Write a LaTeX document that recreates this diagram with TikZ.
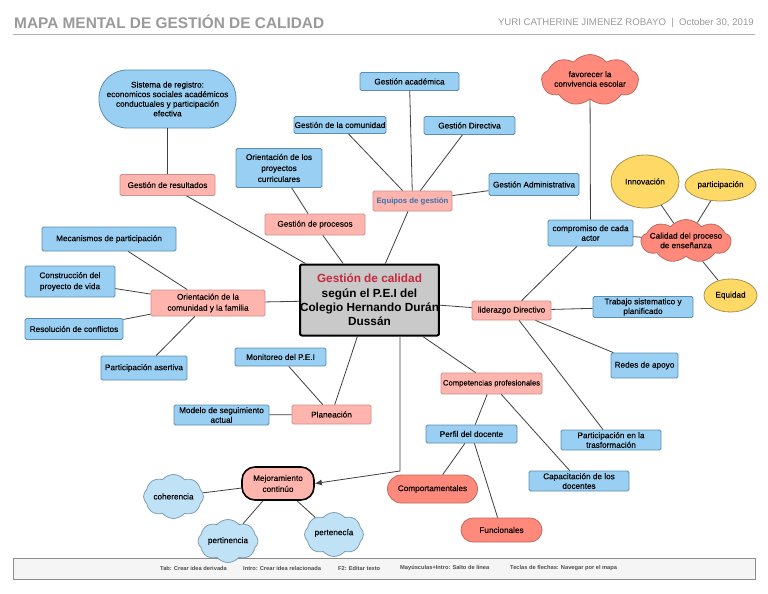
\documentclass[tikz,border=0pt]{standalone}
\usepackage{fontspec}
\setmainfont{Liberation Sans}
\newfontfamily\nodefont[FakeBold=0.25]{Liberation Sans}
\usetikzlibrary{shapes.symbols,shapes.geometric,arrows.meta}
\definecolor{cblue}{HTML}{99CFF2}
\definecolor{bblue}{HTML}{5B8FB0}
\definecolor{cpink}{HTML}{FFB5AD}
\definecolor{bpink}{HTML}{CC8F8A}
\definecolor{cred}{HTML}{FF8A7B}
\definecolor{bred}{HTML}{BF6A60}
\definecolor{cyel}{HTML}{FFD966}
\definecolor{byel}{HTML}{A8924A}
\definecolor{clight}{HTML}{BFE2F7}
\definecolor{blight}{HTML}{7F9DB0}
\definecolor{cgray}{HTML}{C9C9C9}
\definecolor{tgray}{HTML}{9A9A9A}
\definecolor{tred}{HTML}{C8283C}
\definecolor{tblue}{HTML}{2F75B5}
\newcommand{\fsNode}{\nodefont\fontsize{8.2}{11}\selectfont}
\newcommand{\fsTight}{\nodefont\fontsize{8.2}{9.6}\selectfont}
\newcommand{\fsSmall}{\fontsize{7.8}{10}\selectfont}
\tikzset{
  base/.style={inner sep=0pt,align=center,font=\fsNode,text=black,line width=0.8pt},
  tight/.style={font=\fsTight},
  bluebox/.style={base,rectangle,rounded corners=1.5pt,draw=bblue,fill=cblue},
  pinkbox/.style={base,rectangle,rounded corners=1.5pt,draw=bpink,fill=cpink},
  bluepill/.style={base,rectangle,rounded corners=28pt,draw=bblue,fill=cblue},
  redpill/.style={base,rectangle,rounded corners=14pt,draw=bred,fill=cred},
  yelloweli/.style={base,ellipse,draw=byel,fill=cyel},
  redcloud/.style={base,cloud,cloud puffs=9,cloud puff arc=100,aspect=2,draw=bred,fill=cred},
  lightcloud/.style={base,cloud,cloud puffs=8,cloud puff arc=100,aspect=1.35,draw=blight,fill=clight},
  cloudtext/.style={inner sep=0pt,align=center,text=black,font=\fsTight},
  link/.style={draw=black!75,line width=0.8pt},
  hint/.style={inner sep=0pt,anchor=west,font=\fontsize{5.7}{6}\selectfont\bfseries,text=black!70}
}
\begin{document}
\begin{tikzpicture}[x=1pt,y=-1pt]
\useasboundingbox (0,0) rectangle (768,594);
\fill[white] (0,0) rectangle (768,594);
% header
\node[inner sep=0pt,anchor=west,font=\fontsize{15.4}{18}\selectfont\bfseries,text=tgray] (title) at (14,22) {MAPA MENTAL DE GESTIÓN DE CALIDAD};
\node[inner sep=0pt,anchor=east,font=\fontsize{9.65}{11}\selectfont,text=tgray] (author) at (754,23) {YURI CATHERINE JIMENEZ ROBAYO \ |\ \ October 30, 2019};
\draw[draw=black!30,line width=1pt] (13,34.5) -- (755,34.5);
% bottom bar
\node[draw=black!45,fill=black!4,line width=0.8pt,minimum width=742pt,minimum height=21pt,inner sep=0pt] (bar) at (384,568.5) {};
\node[hint] (h1) at (160,568) {Tab: Crear idea derivada};
\node[hint] (h2) at (243,568) {Intro: Crear idea relacionada};
\node[hint] (h3) at (338,568) {F2: Editar texto};
\node[hint] (h4) at (400,568) {Mayúsculas+Intro: Salto de línea};
\node[hint] (h5) at (510,568) {Teclas de flechas: Navegar por el mapa};
% central
\node[draw=black,fill=cgray,line width=2pt,rounded corners=2pt,minimum width=136pt,minimum height=71pt,inner sep=0pt,align=center,font=\fontsize{11.8}{14.4}\selectfont\bfseries] (central) at (369.5,300) {{\color{tred}Gestión de calidad}\\según el P.E.I del\\Colegio Hernando Durán\\Dussán};
% left/top
\node[bluepill,tight,minimum width=137pt,minimum height=58pt] (sistema) at (167.5,99) {Sistema de registro:\\economicos sociales académicos\\conductuales y participación\\efectiva};
\node[pinkbox,minimum width=95pt,minimum height=21pt] (resultados) at (167.5,185) {Gestión de resultados};
\node[bluebox,minimum width=99pt,minimum height=18pt] (academica) at (409.5,81.5) {Gestión académica};
\node[bluebox,minimum width=92pt,minimum height=17pt] (comunidad) at (340,125) {Gestión de la comunidad};
\node[bluebox,minimum width=91pt,minimum height=18pt] (directiva) at (469.5,125.5) {Gestión Directiva};
\node[bluebox,minimum width=90pt,minimum height=22pt] (administrativa) at (534,184.5) {Gestión Administrativa};
\node[bluebox,minimum width=86pt,minimum height=39pt] (proyectos) at (279,168) {Orientación de los\\proyectos\\curriculares};
\node[pinkbox,minimum width=79pt,minimum height=20pt,text=tblue,font=\fsSmall\bfseries] (equipos) at (412.5,201) {Equipos de gestión};
\node[pinkbox,minimum width=100pt,minimum height=21pt] (procesos) at (315,224.5) {Gestión de procesos};
\node[bluebox,minimum width=134pt,minimum height=24pt] (mecanismos) at (109,239) {Mecanismos de participación};
\node[bluebox,minimum width=90pt,minimum height=31pt] (construccion) at (70,281.5) {Construcción del\\proyecto de vida};
\node[pinkbox,minimum width=114pt,minimum height=26pt] (orientacion) at (208,303) {Orientación de la\\comunidad y la familia};
\node[bluebox,minimum width=98pt,minimum height=21pt] (resolucion) at (74,329) {Resolución de conflictos};
\node[bluebox,minimum width=86pt,minimum height=24pt] (asertiva) at (144,368) {Participación asertiva};
\node[bluebox,minimum width=91pt,minimum height=18pt] (monitoreo) at (280.5,357) {Monitoreo del P.E.I};
\node[bluebox,tight,minimum width=95pt,minimum height=20pt] (modelo) at (221.5,415) {Modelo de seguimiento\\actual};
\node[pinkbox,minimum width=79pt,minimum height=19pt] (planeacion) at (331.5,414.5) {Planeación};
\node[base,rectangle,rounded corners=13pt,draw=black,fill=cpink,line width=1.6pt,minimum width=72pt,minimum height=33pt] (mejora) at (278,483.5) {Mejoramiento\\continúo};
\node[lightcloud,minimum width=60pt,minimum height=44pt] (coherencia) at (173.5,496.5) {};
\node[cloudtext] (coherenciaT) at (coherencia) {coherencia};
\node[lightcloud,minimum width=60pt,minimum height=43pt] (pertinencia) at (228,541) {};
\node[cloudtext] (pertinenciaT) at (pertinencia) {pertinencia};
\node[lightcloud,minimum width=59pt,minimum height=44pt] (pertenecia) at (334,534.5) {};
\node[cloudtext] (perteneciaT) at (334,533) {pertenecía};
% right
\node[redcloud,minimum width=97pt,minimum height=51pt] (favorecer) at (590,80) {};
\node[cloudtext] (favorecerT) at (590,79) {favorecer la\\convivencia escolar};
\node[bluebox,tight,minimum width=85pt,minimum height=26pt] (compromiso) at (590.5,233) {compromiso de cada\\actor};
\node[redcloud,minimum width=90pt,minimum height=43pt] (calidad) at (686,241) {};
\node[cloudtext] (calidadT) at (686,240.5) {Calidad del proceso\\de enseñanza};
\node[yelloweli,minimum width=68pt,minimum height=53pt] (innovacion) at (645,181.5) {Innovación};
\node[yelloweli,minimum width=71pt,minimum height=32pt] (participacion) at (720.5,185) {participación};
\node[yelloweli,minimum width=53pt,minimum height=33pt] (equidad) at (730.5,295.5) {Equidad};
\node[pinkbox,minimum width=79pt,minimum height=19pt] (liderazgo) at (511.5,310.5) {liderazgo Directivo};
\node[bluebox,tight,minimum width=100pt,minimum height=21pt] (trabajo) at (643,307) {Trabajo sistematico y\\planificado};
\node[bluebox,minimum width=67pt,minimum height=25pt] (redes) at (644.5,365.5) {Redes de apoyo};
\node[bluebox,tight,minimum width=100pt,minimum height=20pt] (transformacion) at (611,440) {Participación en la\\trasformación};
\node[bluebox,tight,minimum width=100pt,minimum height=20pt] (capacitacion) at (579,481) {Capacitación de los\\docentes};
\node[pinkbox,minimum width=101pt,minimum height=21pt,font=\nodefont\fontsize{7.7}{10}\selectfont] (competencias) at (491.5,383.5) {Competencias profesionales};
\node[bluebox,minimum width=91pt,minimum height=18pt] (perfil) at (471.5,434) {Perfil del docente};
\node[redpill,minimum width=90pt,minimum height=28pt] (comportamentales) at (432.5,489) {Comportamentales};
\node[redpill,minimum width=81pt,minimum height=24pt,rounded corners=12pt] (funcionales) at (501.5,530) {Funcionales};
% connectors
\foreach \a/\b in {sistema/resultados,resultados/central,proyectos/procesos,procesos/central,
  comunidad/equipos,academica/equipos,directiva/equipos,administrativa/equipos,equipos/central,
  mecanismos/orientacion,construccion/orientacion,resolucion/orientacion,asertiva/orientacion,orientacion/central,
  monitoreo/planeacion,modelo/planeacion,planeacion/central,
  competencias/central,competencias/perfil,competencias/capacitacion,perfil/comportamentales,perfil/funcionales,
  liderazgo/central,liderazgo/trabajo,liderazgo/redes,liderazgo/transformacion,liderazgo/compromiso,
  compromiso/favorecer,compromiso/calidad,innovacion/calidad,participacion/calidad,equidad/calidad,
  mejora/coherencia,mejora/pertinencia,mejora/pertenecia}
  {\draw[link] (\a) -- (\b);}
\coordinate (bend) at (400,471);
\draw[link,-{Latex[length=7pt,width=6pt]}] (central.south -| bend) -- (bend) -- (mejora.east);
\end{tikzpicture}
\end{document}
